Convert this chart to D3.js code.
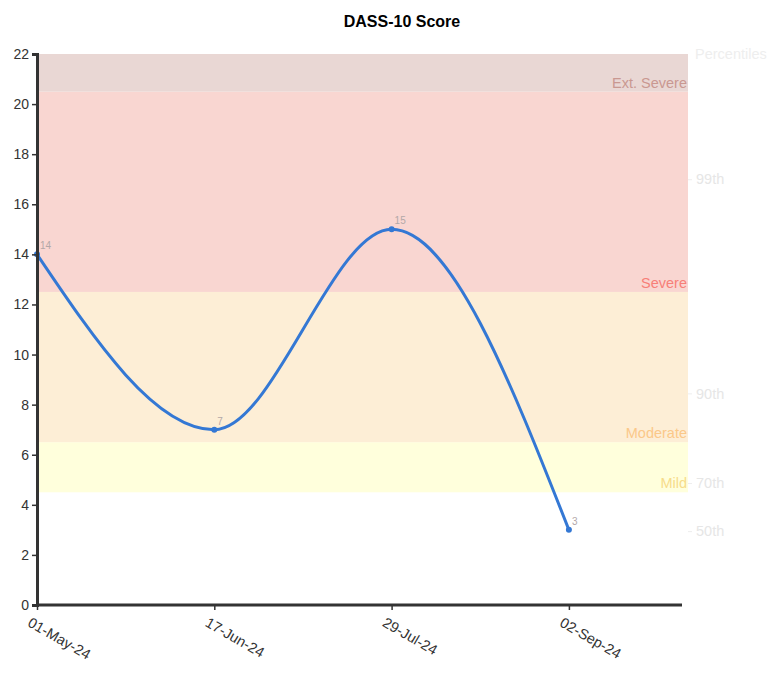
<!DOCTYPE html>
<html>
<head>
<meta charset="utf-8">
<script src="https://cdn.jsdelivr.net/npm/d3@7"></script>
<style>
  body { margin: 0; background: #fff; font-family: "Liberation Sans", Arial, sans-serif; }
  #chart text { font-family: "Liberation Sans", Arial, sans-serif; }
</style>
</head>
<body>
<div id="chart"></div>
<script>

// ------------------------ data ------------------------------

var dates = ["01-May-24", "17-Jun-24", "29-Jul-24", "02-Sep-24"];
var scores = [14, 7, 15, 3];

var bandNames = ["Normal", "Mild", "Moderate", "Severe", "Ext. Severe"];
var bandLows = [0, 4.5, 6.5, 12.5, 20.5];
var bandHighs = [4.5, 6.5, 12.5, 20.5, 22];
var bandFills = ["#ffffff", "#ffffdc", "#fdeed6", "#f9d6d1", "#e9d7d4"];
var bandText = ["#ffffff", "#f7dc8a", "#fbc889", "#f77f78", "#c99891"];

var pctLabels = ["99th", "90th", "70th", "50th"];
var pctScores = [17, 8.45, 4.87, 2.95];

// ------------------------ chart ------------------------------

var build_dassChart = function() {

	var svgWidth = 768, svgHeight = 674;
	var margin = { top: 54, right: 80, bottom: 69, left: 37 },
		width = svgWidth - margin.left - margin.right,
		height = svgHeight - margin.top - margin.bottom;

	// x positions step between dates, axis runs further right
	var step = 177.3;
	var x = d3.scalePoint()
				.domain(dates)
				.range([0, step * (dates.length - 1)]);

	var y = d3.scaleLinear()
				.domain([0, 22])
				.range([height, 0]);

	var svg = d3.select("#chart").append("svg")
			.attr("width", svgWidth)
			.attr("height", svgHeight)
			.attr("viewBox", "0 0 " + svgWidth + " " + svgHeight)
				.append("g")
				.attr("transform", "translate(" + margin.left + "," + margin.top + ")");

	// severity bands
	var bands = bandNames.map(function(n, i) {
		return { name: n, lo: bandLows[i], hi: bandHighs[i], fill: bandFills[i], text: bandText[i] };
	});

	svg.append("g").selectAll(".band")
			.data(bands)
			.enter().append("rect")
				.attr("class", "band")
				.attr("x", 0)
				.attr("width", width)
				.attr("y", function(d) { return y(d.hi); })
				.attr("height", function(d) { return y(d.lo) - y(d.hi); })
				.attr("fill", function(d) { return d.fill; });

	svg.append("g").selectAll(".band-label")
			.data(bands.filter(function(d) { return d.name != "Normal"; }))
			.enter().append("text")
				.attr("class", "band-label")
				.attr("x", width - 1)
				.attr("y", function(d) { return y(d.lo) - 4; })
				.attr("text-anchor", "end")
				.attr("font-size", "14.5px")
				.attr("fill", function(d) { return d.text; })
				.text(function(d) { return d.name; });

	// right percentile axis
	var axisR = svg.append("g")
					.attr("transform", "translate(" + width + ",0)")
					.call(d3.axisRight(y).tickValues(pctScores).tickSize(4).tickPadding(4)
						.tickFormat(function(d, i) { return pctLabels[i]; }));
	axisR.select(".domain").remove();
	axisR.selectAll(".tick line").attr("stroke", "#eee");
	axisR.selectAll(".tick text").attr("fill", "#e6e6e6").attr("font-size", "14.5px");

	svg.append("text")
			.attr("x", width + 7)
			.attr("y", 5)
			.attr("font-size", "14.5px")
			.attr("fill", "#eeeeee")
			.text("Percentiles");

	// line
	var pts = dates.map(function(d, i) { return { date: d, score: scores[i] }; });

	var line = d3.line()
				.x(function(d) { return x(d.date); })
				.y(function(d) { return y(d.score); })
				.curve(d3.curveMonotoneX);

	svg.append("path")
			.datum(pts)
			.attr("fill", "none")
			.attr("stroke", "#3478d4")
			.attr("stroke-width", 3)
			.attr("d", line);

	svg.append("g").selectAll(".dot")
			.data(pts)
			.enter().append("circle")
				.attr("class", "dot")
				.attr("cx", function(d) { return x(d.date); })
				.attr("cy", function(d) { return y(d.score); })
				.attr("r", 3)
				.attr("fill", "#3478d4");

	svg.append("g").selectAll(".dot-label")
			.data(pts)
			.enter().append("text")
				.attr("class", "dot-label")
				.attr("x", function(d) { return x(d.date) + 3; })
				.attr("y", function(d) { return y(d.score) - 5; })
				.attr("font-size", "10px")
				.attr("fill", "#b3a8a8")
				.text(function(d) { return d.score; });

	// x axis
	var axisX = svg.append("g")
					.attr("transform", "translate(0," + height + ")")
					.call(d3.axisBottom(x).tickSize(5).tickPadding(6));
	axisX.select(".domain").attr("d", "M0,0H" + (width - 6)).attr("stroke", "#333").attr("stroke-width", 3);
	axisX.selectAll(".tick line").attr("stroke", "#333").attr("stroke-width", 1.5);
	axisX.selectAll(".tick text")
			.attr("font-size", "14.5px")
			.attr("fill", "#333")
			.attr("text-anchor", "start")
			.attr("transform", "translate(0,2) rotate(30)");

	// y axis
	var axisY = svg.append("g")
					.call(d3.axisLeft(y).tickValues(d3.range(0, 23, 2)).tickSize(5).tickPadding(3));
	axisY.select(".domain").attr("stroke", "#333").attr("stroke-width", 3);
	axisY.selectAll(".tick line").attr("stroke", "#333").attr("stroke-width", 1.5);
	axisY.selectAll(".tick text").attr("font-size", "14px").attr("fill", "#333");

	// title
	d3.select("#chart svg").append("text")
			.attr("x", 402)
			.attr("y", 27)
			.attr("text-anchor", "middle")
			.attr("font-size", "16px")
			.attr("font-weight", "bold")
			.attr("fill", "#000")
			.text("DASS-10 Score");

}

build_dassChart();
</script>
</body>
</html>
